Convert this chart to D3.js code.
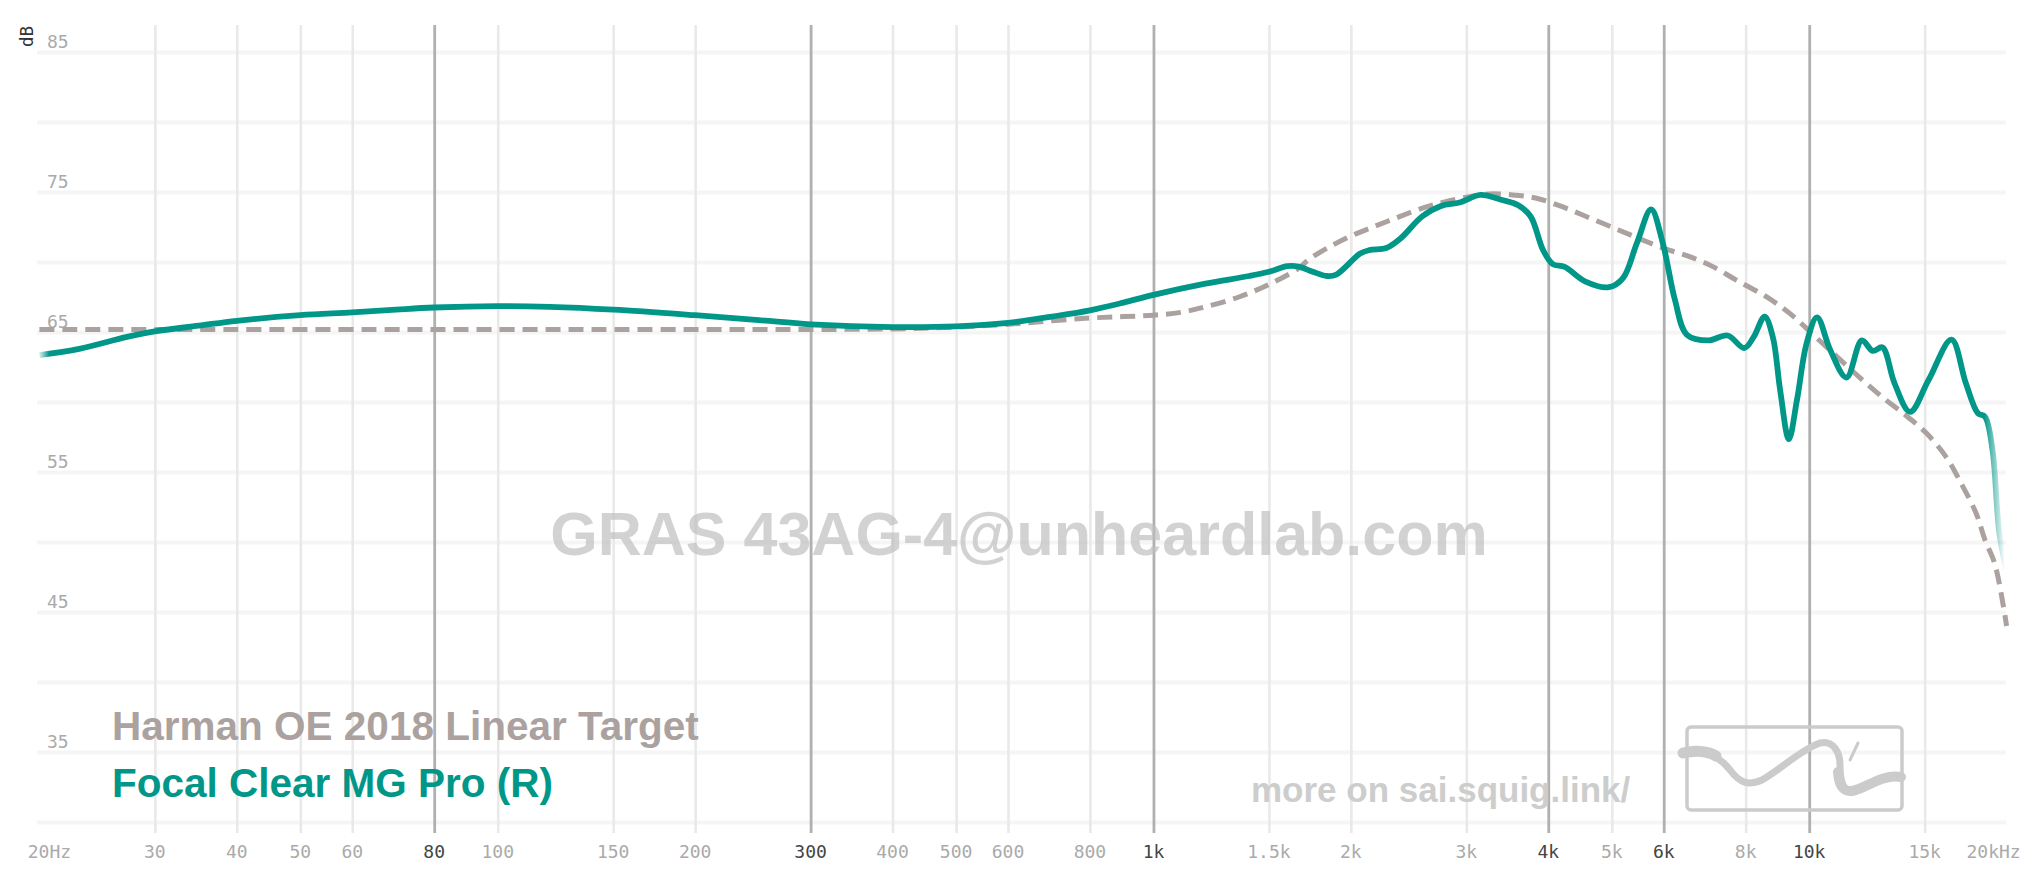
<!DOCTYPE html>
<html><head><meta charset="utf-8">
<script src="https://cdn.jsdelivr.net/npm/d3@7"></script>
<style>
html,body{margin:0;padding:0;background:#fff;overflow:hidden;}
svg{display:block;}
</style></head><body>
<svg id="chart" width="2044" height="884"></svg>
<script>
// ---- data ----
const freqTicks  = [20,30,40,50,60,80,100,150,200,300,400,500,600,800,1000,1500,2000,3000,4000,5000,6000,8000,10000,15000,20000];
const freqLabels = ["20Hz","30","40","50","60","80","100","150","200","300","400","500","600","800","1k","1.5k","2k","3k","4k","5k","6k","8k","10k","15k","20kHz"];
const majorFreqs = [80,300,1000,4000,6000,10000];
const dbGrid     = [30,35,40,45,50,55,60,65,70,75,80,85];
const dbLabels   = [35,45,55,65,75,85];

const targetName = "Harman OE 2018 Linear Target";
const targetFreq = [20,100,200,300,400,500,600,700,800,900,1000,1100,1200,1350,1500,1665,1721,1839,2001,2180,2373,2591,2790,3032,3245,3530,3840,4200,4640,5120,5540,6000,6570,7130,7740,8600,9340,10150,11020,11980,13000,14120,15100,16160,17050,17970,18540,19200,20000];
const targetDb   = [65.18,65.18,65.18,65.18,65.22,65.35,65.55,65.8,66.0,66.1,66.2,66.4,66.8,67.5,68.4,69.55,70.14,70.98,71.86,72.57,73.24,73.9,74.31,74.67,74.86,74.79,74.55,73.95,73.12,72.29,71.62,70.98,70.38,69.67,68.71,67.52,66.33,64.79,63.24,61.69,60.26,58.95,57.76,56.1,54.19,52.05,50.14,48.4,44.0];

const measName = "Focal Clear MG Pro (R)";
const measFreq = [20,23,27.2,30,35,40,50,60,70,80,100,120,150,200,250,300,400,500,600,700,800,900,1000,1200,1400,1500,1600,1665,1750,1839,1900,2066,2134,2264,2383,2568,2745,2930,3153,3390,3600,3760,3928,4064,4237,4560,4948,5200,5460,5740,5980,6240,6510,7020,7510,7960,8230,8550,8800,9030,9310,9580,9910,10280,10770,11400,12030,12500,12930,13490,14250,15200,16480,17330,18080,18540,19030,19500,20000];
const measDb   = [63.35,63.8,64.65,65.05,65.45,65.8,66.2,66.4,66.6,66.75,66.85,66.8,66.6,66.2,65.85,65.55,65.35,65.4,65.65,66.1,66.55,67.1,67.65,68.45,69.0,69.3,69.7,69.67,69.3,69.0,69.1,70.6,70.85,71.0,71.7,73.25,74.0,74.25,74.8,74.45,74.05,73.25,70.85,69.85,69.65,68.6,68.2,68.85,71.35,73.75,71.35,67.3,64.8,64.4,64.75,63.85,64.65,66.1,64.65,60.85,57.35,60.15,64.2,66.05,63.7,61.75,64.4,63.65,63.9,61.35,59.3,61.55,64.45,61.35,59.2,58.95,56.6,50.6,48.0];

const watermark = "GRAS 43AG-4@unheardlab.com";
const siteText  = "more on sai.squig.link/";

// ---- layout / style ----
const svg = d3.select("#chart");
const x = d3.scaleLog().domain([20,20000]).range([39.4,2006.6]);
const y = d3.scaleLinear().domain([30,85]).range([822,52]);
const teal = "#009688", taupe = "#aba29f";
const mono = "'DejaVu Sans Mono', monospace";
const sans = "'Liberation Sans', Arial, sans-serif";

// horizontal grid
const yAxis = d3.axisLeft(y).tickValues(dbGrid).tickSize(-(2006-37)).tickFormat("");
const gy = svg.append("g").attr("transform","translate(37,0)").call(yAxis);
gy.select(".domain").remove();
gy.selectAll("line").attr("stroke","#f5f5f5").attr("stroke-width",4);

// y labels
svg.append("g").selectAll("text").data(dbLabels).join("text")
  .attr("x",47).attr("y",d=>y(d)-4.5)
  .attr("font-family",mono).attr("font-size",18).attr("fill","#aaa")
  .text(d=>d);

svg.append("text").attr("transform","translate(33,47) rotate(-90)")
  .attr("font-family",mono).attr("font-size",17.5).attr("fill","#333").text("dB");

// vertical grid
const inner = freqTicks.filter(f=>f>20&&f<20000);
const xAxis = d3.axisBottom(x).tickValues(inner).tickSize(833-25).tickFormat("");
const gx = svg.append("g").attr("transform","translate(0,25)").call(xAxis);
gx.select(".domain").remove();
gx.selectAll(".tick line")
  .attr("stroke",d=>majorFreqs.includes(d)?"#b0b0b0":"#e9e9e9")
  .attr("stroke-width",d=>majorFreqs.includes(d)?2.8:2.6);

// x labels
svg.append("g").selectAll("text").data(freqTicks).join("text")
  .attr("x",(d,i)=>x(d)+(i===0?10:(i===freqTicks.length-1?-13:0)))
  .attr("y",858).attr("text-anchor","middle")
  .attr("font-family",mono).attr("font-size",18)
  .attr("fill",d=>majorFreqs.includes(d)?"#444":"#aaa")
  .text((d,i)=>freqLabels[i]);

// watermark
svg.append("text").attr("x",1019).attr("y",555).attr("text-anchor","middle")
  .attr("font-family",sans).attr("font-weight","bold").attr("font-size",61)
  .attr("fill","#bcbcbc").attr("fill-opacity",0.68).text(watermark);

// target
const line = d3.line().x(d=>x(d[0])).y(d=>y(d[1])).curve(d3.curveCatmullRom.alpha(0.5));
svg.append("path").datum(targetFreq.map((f,i)=>[f,targetDb[i]]))
  .attr("d",line).attr("fill","none").attr("stroke",taupe)
  .attr("stroke-width",5).attr("stroke-dasharray","15 8");

// measurement with faded ends
const defs = svg.append("defs");
const grad = defs.append("linearGradient").attr("id","fade")
  .attr("gradientUnits","userSpaceOnUse")
  .attr("x1",x(20)).attr("x2",x(20000)).attr("y1",0).attr("y2",0);
[[0,0.15],[0.005,1],[0.9885,1],[0.999,0]].forEach(s=>
  grad.append("stop").attr("offset",s[0]).attr("stop-color",teal).attr("stop-opacity",s[1]));
svg.append("path").datum(measFreq.map((f,i)=>[f,measDb[i]]))
  .attr("d",line).attr("fill","none").attr("stroke","url(#fade)")
  .attr("stroke-width",5.8).attr("stroke-linejoin","round");

// legend
svg.append("text").attr("x",112).attr("y",740)
  .attr("font-family",sans).attr("font-weight","bold").attr("font-size",40.5)
  .attr("fill",taupe).text(targetName);
svg.append("text").attr("x",112).attr("y",797)
  .attr("font-family",sans).attr("font-weight","bold").attr("font-size",40.5)
  .attr("fill",teal).text(measName);

// site text + logo
svg.append("text").attr("x",1251).attr("y",802)
  .attr("font-family",sans).attr("font-weight","bold").attr("font-size",35)
  .attr("fill","#cdcdcd").text(siteText);
const logo = svg.append("g").attr("fill","none").attr("stroke","#cbcbcb").attr("stroke-linecap","round").attr("stroke-linejoin","round");
logo.append("rect").attr("x",1687).attr("y",727).attr("width",215).attr("height",83).attr("rx",4).attr("stroke-width",3.5);
logo.append("path").attr("stroke-width",7)
  .attr("d","M1683,753 C1700,749 1718,754 1730,770 C1740,783 1748,786 1762,780 C1780,770 1800,750 1820,743 C1833,740 1840,752 1840,765 C1840,780 1843,792 1852,791 C1866,789 1878,775 1901,777");
logo.append("path").attr("stroke-width",11)
  .attr("d","M1683,753 C1695,750 1708,751 1716,756");
logo.append("path").attr("stroke-width",10)
  .attr("d","M1838,772 C1839,785 1843,792 1852,791 C1866,789 1880,774 1901,777");
logo.append("path").attr("stroke-width",3).attr("d","M1850,760 L1858,743");
</script>
</body></html>
